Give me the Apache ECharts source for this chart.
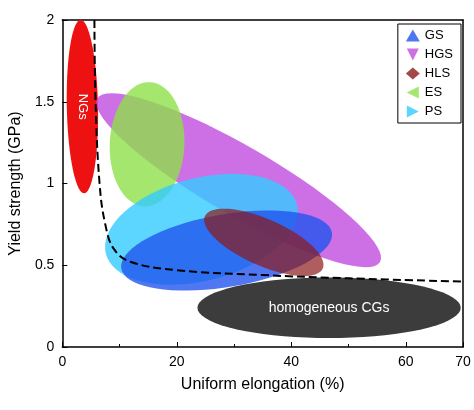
<!DOCTYPE html><html><head><meta charset="utf-8"><script src="https://cdn.jsdelivr.net/npm/echarts@6/dist/echarts.min.js"></script></head><body style="margin:0"><div id="c" style="width:474px;height:410px"></div><script>
// ellipse: [centerX, centerY, majorEndX, majorEndY, minorRatio]
const names=['homogeneous CGs','NGs','HGS','ES','PS','GS','HLS'];
const ellipses=[[46.6,0.24,69.6,0.24,0.23],[3.5,1.47,3.2,2.0,0.18],[30.8,1.02,6.1,1.52,0.21],[14.8,1.24,15.3,1.62,0.6],[24.3,0.72,41.0,0.87,0.52],[28.7,0.59,47.1,0.70,0.34],[35.2,0.64,45.5,0.48,0.36]];
const colors=['#3c3c3c','#ee1111','#c04ce0','#8ee04a','#33ccff','#2255ee','#8b1a1a'];
const labels=['homogeneous CGs','NGs','','','','',''];
const boundX=[5.6,5.8,6.5,7.5,9,12,20,35,50,70];
const boundY=[2.0,1.5,1.0,0.75,0.6,0.52,0.47,0.44,0.42,0.4];
const legendNames=['GS','HGS','HLS','ES','PS'];
const legendColors=['#2255ee','#c04ce0','#8b1a1a','#8ee04a','#33ccff'];
const legendSymbols=['triangle','path://M0,0L10,0L5,10Z','diamond','path://M10,0L10,10L0,5Z','path://M0,0L0,10L10,5Z'];
const ch=echarts.init(document.getElementById('c'));
const frame={lineStyle:{color:'#000',width:1.5}};
ch.setOption({
 animation:false,
 grid:{left:62,right:11,top:20,bottom:63},
 xAxis:[{min:0,max:70,interval:20,name:'Uniform elongation (%)',nameLocation:'middle',nameGap:30,nameTextStyle:{fontSize:16,color:'#000'},
  axisLine:{onZero:false,...frame},axisTick:{inside:true},minorTick:{show:true,splitNumber:2},axisLabel:{fontSize:14,color:'#000'},splitLine:{show:false},minorSplitLine:{show:false}},
  {position:'top',min:0,max:70,axisLine:{onZero:false,...frame},axisTick:{show:false},axisLabel:{show:false},splitLine:{show:false}}],
 yAxis:[{min:0,max:2,interval:0.5,name:'Yield strength (GPa)',nameLocation:'middle',nameGap:36,nameTextStyle:{fontSize:16,color:'#000'},
  axisLine:{onZero:false,...frame},axisTick:{inside:true},axisLabel:{fontSize:14,color:'#000'},splitLine:{show:false}},
  {position:'right',min:0,max:2,axisLine:{show:true,onZero:false,...frame},axisTick:{show:false},axisLabel:{show:false},splitLine:{show:false}}],
 legend:{data:legendNames.map((n,i)=>({name:n,icon:legendSymbols[i]})),orient:'vertical',right:13,top:24,itemWidth:14,itemHeight:12,itemGap:6,
  borderColor:'#000',borderWidth:1,padding:[5,8],textStyle:{fontSize:13,color:'#000'},selectedMode:false},
 series:[
  {type:'custom',coordinateSystem:'cartesian2d',data:ellipses.map((e,i)=>[...e,i]),z:2,
   renderItem:(p,api)=>{const i=api.value(5);const c=api.coord([api.value(0),api.value(1)]);const m=api.coord([api.value(2),api.value(3)]);
    const dx=m[0]-c[0],dy=m[1]-c[1],a=Math.hypot(dx,dy),b=a*api.value(4),t=Math.atan2(dy,dx);const pts=[];
    for(let k=0;k<72;k++){const u=k/72*2*Math.PI;const x=a*Math.cos(u),y=b*Math.sin(u);pts.push([c[0]+x*Math.cos(t)-y*Math.sin(t),c[1]+x*Math.sin(t)+y*Math.cos(t)]);}
    const ch=[{type:'polygon',shape:{points:pts},style:{fill:colors[i],opacity:i<2?1:(i==6?0.7:0.8)}}];
    if(labels[i])ch.push({type:'text',x:c[0],y:c[1],rotation:i==1?-Math.PI/2:0,style:{text:labels[i],fill:'#fff',fontSize:i==1?13:14,align:'center',verticalAlign:'middle'}});
    return {type:'group',children:ch};}},
  {type:'line',data:boundX.map((x,i)=>[x,boundY[i]]),smooth:0.4,symbol:'none',lineStyle:{color:'#000',type:'dashed',width:2},z:5},
  ...legendNames.map((n,i)=>({type:'scatter',name:n,data:[],itemStyle:{color:legendColors[i]}}))
 ]
});
</script></body></html>
